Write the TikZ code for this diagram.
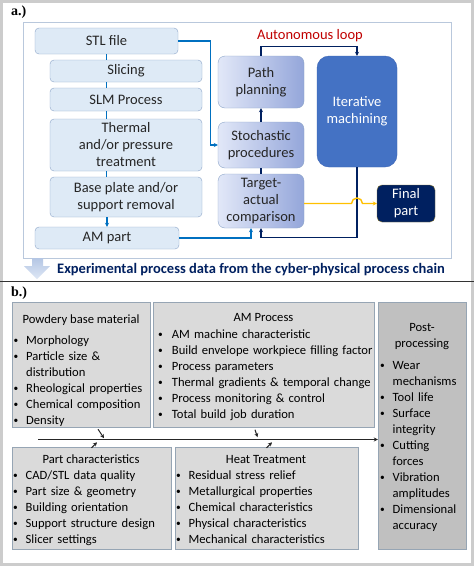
\documentclass[tikz,border=0pt]{standalone}
\usepackage{fontspec}
\setmainfont{Carlito}
\newfontfamily\lblfont{Liberation Serif}
\usetikzlibrary{arrows.meta}
\definecolor{lnblue}{RGB}{0,112,192}
\definecolor{navy}{RGB}{0,32,96}
\definecolor{boxfill}{RGB}{222,234,246}
\definecolor{boxedge}{RGB}{140,165,200}
\definecolor{rleft}{RGB}{226,232,248}
\definecolor{rright}{RGB}{148,166,218}
\definecolor{iterblue}{RGB}{68,114,196}
\definecolor{loopred}{RGB}{192,0,0}
\definecolor{hopyellow}{RGB}{255,192,0}
\definecolor{gfill}{RGB}{218,218,218}
\definecolor{gdark}{RGB}{192,192,192}
\definecolor{gedge}{RGB}{150,165,180}
\newcommand{\pitem}[1][12.5pt]{\makebox[#1][l]{\raisebox{0.12ex}{\scalebox{0.75}{\textbullet}}}}
\newcommand{\pcont}[1][12.5pt]{\hspace*{#1}}

\begin{document}
\begin{tikzpicture}[x=1pt,y=-1pt,
    lbox/.style={draw=boxedge, fill=boxfill, rounded corners=4pt, inner sep=0pt, align=center,
      font=\fontsize{14.5}{17}\selectfont, text=black!85},
    rbox/.style={draw=boxedge, left color=rleft, right color=rright, rounded corners=7pt, inner sep=0pt,
      align=center, font=\fontsize{14.5}{17}\selectfont, text=black!85},
    gbox/.style={draw=gedge, fill=gfill, inner sep=0pt},
    ttl/.style={font=\fontsize{12.6}{16}\selectfont, anchor=base, inner sep=0pt},
    lst/.style={font=\fontsize{12.6}{16}\selectfont, anchor=base west, text width=260pt, align=left, inner sep=0pt},
    bl/.style={draw=lnblue, line width=1.1pt},
    nv/.style={draw=navy, line width=1.1pt},
    tip/.style={-{Stealth[length=4pt,width=4pt]}}]
  \useasboundingbox (0,0) rectangle (474,566);
  \fill[white] (0,0) rectangle (474,566);
  \draw[gray!40, line width=3pt] (1.5,1.5) rectangle (472.5,564.5);
  \draw[black!80, line width=1.2pt] (0,281.5) -- (474,281.5);

  % a.) cyber-physical process chain
  \node[font=\lblfont\bfseries\fontsize{14}{16}\selectfont, anchor=west, inner sep=0pt] (lbla) at (11,12.5) {a.)};
  \draw[draw={rgb,255:red,185;green,200;blue,220}, line width=0.8pt] (23,22) rectangle (451,258);

  \node[lbox, minimum width=143pt, minimum height=26pt] (stl) at (106.5,41) {STL file};
  \node[lbox, minimum width=152pt, minimum height=22pt] (slice) at (126,71) {Slicing};
  \node[lbox, minimum width=152pt, minimum height=23pt] (slm) at (126,99.5) {SLM Process};
  \node[lbox, minimum width=152pt, minimum height=52pt] (therm) at (126,145) {Thermal\\and/or pressure\\treatment};
  \node[lbox, minimum width=152pt, minimum height=40pt] (base) at (126,197) {Base plate and/or\\support removal};
  \node[lbox, minimum width=144pt, minimum height=22pt] (ampart) at (107,238) {AM part};

  \node[rbox, minimum width=86pt, minimum height=52pt] (path) at (261,82) {Path\\planning};
  \node[rbox, minimum width=86pt, minimum height=46pt] (stoch) at (261,145) {Stochastic\\procedures};
  \node[rbox, minimum width=86pt, minimum height=54pt] (target) at (261,201) {Target-\\actual\\comparison};
  \node[draw={rgb,255:red,60;green,100;blue,180}, fill=iterblue, rounded corners=12pt, minimum width=80pt,
    minimum height=111pt, align=center, text=white, font=\fontsize{14.5}{17}\selectfont] (iter) at (357,111.5)
    {Iterative\\machining};
  \node[draw={rgb,255:red,130;green,115;blue,50}, fill=navy, rounded corners=5pt, minimum width=58pt,
    minimum height=37pt, align=center, text=white, font=\fontsize{14.5}{17}\selectfont] (final) at (406,203.5)
    {Final\\part};
  \node[text=loopred, font=\fontsize{14.5}{17}\selectfont, inner sep=0pt] (loop) at (310,35.5) {Autonomous loop};

  \foreach \a/\b in {stl/slice, slice/slm, slm/therm, therm/base}
    \draw[bl] (\a.south -| stl.south) -- (\b.north -| stl.south);
  \draw[bl, tip] (base.south -| ampart.north) -- (ampart.north);
  \draw[bl, tip] (stl.east) -- ++(32,0) |- (stoch.west);
  \draw[bl, tip] (ampart.east) -| ([xshift=-10pt]target.south);
  \draw[nv, tip] (stoch.north) -- (path.south);
  \draw[nv] (stoch.south) -- (target.north);
  \draw[nv, tip] (path.north) -- ++(0,-9.5) -| (iter.north);
  \draw[nv, tip] (iter.south) |- ([yshift=-9pt]target.south) -- (target.south);
  \draw[draw=hopyellow, line width=1.4pt, tip] (target.east |- final.west) -- (351.5,203.5)
    arc[start angle=180, end angle=0, radius=5.5pt] -- (final.west);

  \shade[top color={rgb,255:red,180;green,198;blue,228}, bottom color={rgb,255:red,222;green,231;blue,245}]
    (32,258) -- (43,258) -- (43,266) -- (50,266) -- (37,279) -- (24,266) -- (32,266) -- cycle;
  \node[font=\bfseries\fontsize{14.5}{17}\selectfont, text=navy, anchor=west, inner sep=0pt] (expt) at (57,270)
    {Experimental process data from the cyber-physical process chain};

  % b.) influencing factors
  \node[font=\lblfont\bfseries\fontsize{14}{16}\selectfont, anchor=west, inner sep=0pt] (lblb) at (11,293) {b.)};
  \node[gbox, minimum width=138pt, minimum height=125pt] (powd) at (81,364.5) {};
  \node[gbox, minimum width=221pt, minimum height=125pt] (amp) at (263.5,364.5) {};
  \node[gbox, fill=gdark, minimum width=88pt, minimum height=247pt] (post) at (422,425.5) {};
  \node[gbox, minimum width=159pt, minimum height=102pt] (partc) at (91.5,498) {};
  \node[gbox, minimum width=183pt, minimum height=102pt] (heat) at (266.5,498) {};

  \node[ttl] at (81,323.5) {Powdery base material};
  \node[lst] at (13.5,344) {\pitem Morphology\\ \pitem Particle size \&\\ \pcont distribution\\
    \pitem Rheological properties\\ \pitem Chemical composition\\ \pitem Density};
  \node[ttl] at (263.5,321.7) {AM Process};
  \node[lst] at (158,338.3) {\pitem[9.5pt] AM machine characteristic\\ \pitem[9.5pt] Build envelope workpiece filling factor\\
    \pitem[9.5pt] Process parameters\\ \pitem[9.5pt] Thermal gradients \& temporal change\\
    \pitem[9.5pt] Process monitoring \& control\\ \pitem[9.5pt] Total build job duration};
  \node[ttl, text width=86pt, align=center] at (422,331.7) {Post-\\processing};
  \node[lst] at (380,369) {\pitem Wear\\ \pcont mechanisms\\ \pitem Tool life\\ \pitem Surface\\ \pcont integrity\\
    \pitem Cutting\\ \pcont forces\\ \pitem Vibration\\ \pcont amplitudes\\ \pitem Dimensional\\ \pcont accuracy};
  \node[ttl] at (91,463) {Part characteristics};
  \node[lst] at (13,479) {\pitem CAD/STL data quality\\ \pitem Part size \& geometry\\ \pitem Building orientation\\
    \pitem Support structure design\\ \pitem Slicer settings};
  \node[ttl] at (266,463) {Heat Treatment};
  \node[lst] at (176,479) {\pitem Residual stress relief\\ \pitem Metallurgical properties\\
    \pitem Chemical characteristics\\ \pitem Physical characteristics\\ \pitem Mechanical characteristics};

  \coordinate (spine) at (38,439.5);
  \draw[black!85, line width=1.4pt, tip] (spine) -- (post.west |- spine);
  \draw[black!85, line width=1pt, tip] ([xshift=17pt,yshift=-2pt]powd.south) -- ++(6,9);
  \draw[black!85, line width=1pt, tip] ([yshift=-1pt]partc.north) -- ++(5.5,-5.5);
  \draw[black!85, line width=1pt, tip] ([xshift=-8.5pt,yshift=-2.5pt]amp.south) -- ++(2.5,7.5);
  \draw[black!85, line width=1pt, tip] ([yshift=-1pt]heat.north) -- ++(5.5,-5.5);
\end{tikzpicture}
\end{document}
